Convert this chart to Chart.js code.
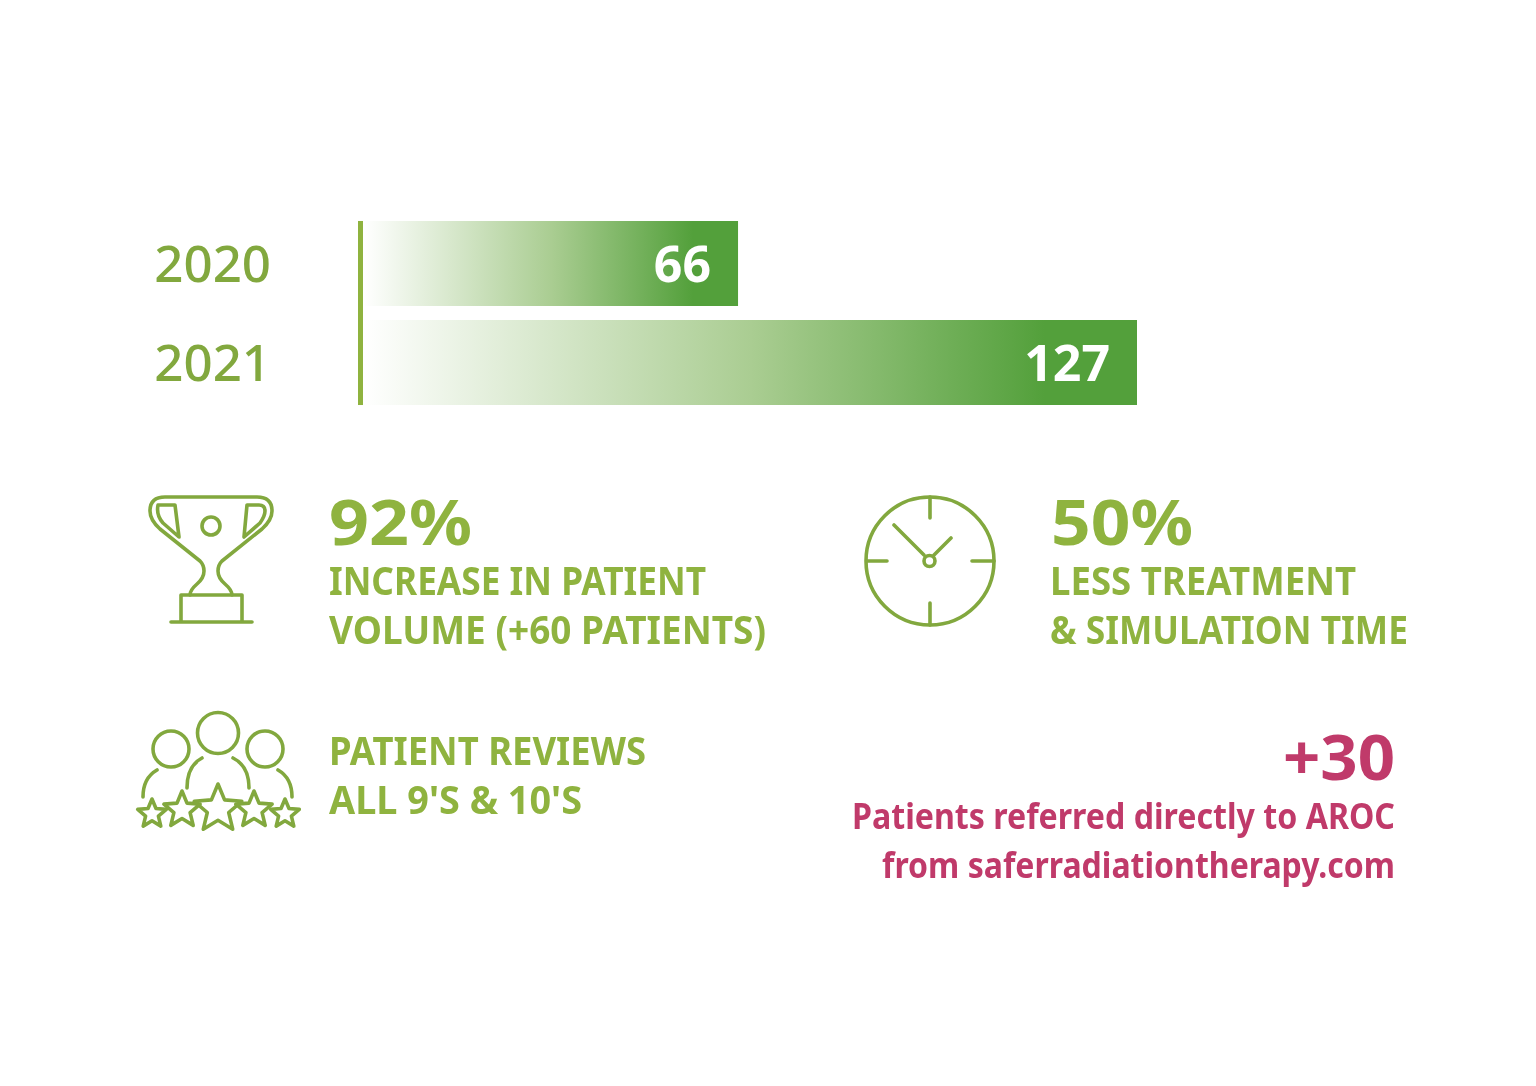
<!DOCTYPE html>
<html>
<head>
<meta charset="utf-8">
<title>Patient volume</title>
<script src="https://cdn.jsdelivr.net/npm/chart.js@4"></script>
<style>
  html, body { margin: 0; padding: 0; background: #fff; }
  #wrap { position: relative; width: 1536px; height: 1086px; overflow: hidden; }
  #canvas, #overlay { position: absolute; left: 0; top: 0; }
  #overlay text { font-family: "Noto Sans", sans-serif; font-weight: 700; }
</style>
</head>
<body>
<div id="wrap">
  <canvas id="canvas" width="1536" height="1086"></canvas>
  <svg id="overlay" width="1536" height="1086" xmlns="http://www.w3.org/2000/svg">
    <g id="texts"></g>
    <g id="icons" fill="none" stroke="#82a83e" stroke-width="3.6" stroke-linecap="round" stroke-linejoin="round">
      <!-- trophy -->
      <path d="M165 497H257Q272 497 272 511Q272 520 262 529L222 561Q218 565 218 571Q218 578 225 584Q232 590 232 595M165 497Q150 497 150 511Q150 520 160 529L200 561Q204 565 204 571Q204 578 197 584Q190 590 190 595"/>
      <path d="M158 505H175L179 537L163 523Q156 515 158 505Z"/>
      <path d="M247 505H259Q265 505 265 511Q265 516 260 523L244 537Z"/>
      <circle cx="211" cy="526" r="9"/>
      <path d="M181 595H242V622M181 595V622M171 622H252"/>
      <!-- clock -->
      <circle cx="930" cy="561" r="64"/>
      <path d="M930 497V518M930 603V625M867 561H887M972 561H994M894 525L924 555M951 538L934 555"/>
      <circle cx="929.5" cy="561" r="5.5"/>
      <!-- people -->
      <circle cx="218" cy="733" r="20.5"/>
      <circle cx="171" cy="749" r="18"/>
      <circle cx="265" cy="749" r="18"/>
      <path d="M202 758Q187 766 187 788M233 758Q249 766 249 788M157 770Q143 778 143 797M278 770Q292 778 292 797"/>
      <g id="stars"></g>
    </g>
  </svg>
</div>
<script>
// bar data
var years = ["2020", "2021"];
var patients = [66, 127];
var axisMin = 8.35; // bars in the picture do not start at zero

// text blocks beside the icons: text, left x, baseline, width, size, colour
var green = "#8fb33f";
var pink = "#c03a6a";
var textLines = ["92%", "INCREASE IN PATIENT", "VOLUME (+60 PATIENTS)", "50%", "LESS TREATMENT", "& SIMULATION TIME",
                 "PATIENT REVIEWS", "ALL 9'S & 10'S", "+30", "Patients referred directly to AROC", "from saferradiationtherapy.com"];
var textX =     [329, 329, 329, 1051, 1050, 1050, 329, 329, 1283, 852, 882];
var textY =     [545, 595, 644, 545, 595, 644, 765, 814, 780, 829, 878];
var textW =     [143, 377, 437, 142, 306, 358, 317, 253, 112, 543, 513];
var textSize =  [63, 39, 39, 63, 39, 39, 39, 39, 63, 35, 35];
var textFill =  [green, green, green, green, green, green, green, green, pink, pink, pink];

var SVGNS = "http://www.w3.org/2000/svg";
var texts = document.getElementById("texts");
for (let i = 0; i < textLines.length; i++) {
    let t = document.createElementNS(SVGNS, "text");
    t.textContent = textLines[i];
    t.setAttribute("x", textX[i]);
    t.setAttribute("y", textY[i]);
    t.setAttribute("font-size", textSize[i]);
    t.setAttribute("fill", textFill[i]);
    t.setAttribute("textLength", textW[i]);
    t.setAttribute("lengthAdjust", "spacingAndGlyphs");
    texts.appendChild(t);
}

// five stars under the people icon
var starX = [152, 182, 218, 254, 285];
var starY = [814, 810, 809, 810, 814];
var starR = [15, 19, 25, 19, 15];
var stars = document.getElementById("stars");
for (let s = 0; s < starX.length; s++) {
    let pts = [];
    for (let k = 0; k < 10; k++) {
        let r = k % 2 == 0 ? starR[s] : starR[s] * 0.45;
        let a = -Math.PI / 2 + k * Math.PI / 5;
        pts.push((starX[s] + r * Math.cos(a)).toFixed(1) + "," + (starY[s] + r * Math.sin(a)).toFixed(1));
    }
    let p = document.createElementNS(SVGNS, "polygon");
    p.setAttribute("points", pts.join(" "));
    stars.appendChild(p);
}

// white to green over most of the bar, solid at the end
function barGradient(context) {
    var chart = context.chart;
    if (!chart.chartArea) return "#53a03b";
    var xs = chart.scales.x;
    var left = xs.getPixelForValue(axisMin);
    var right = xs.getPixelForValue(context.parsed ? context.parsed.x : patients[context.dataIndex]);
    var g = chart.ctx.createLinearGradient(left + 3, 0, right, 0);
    g.addColorStop(0, "#ffffff");
    g.addColorStop(0.5, "#aacd92");
    g.addColorStop(0.88, "#53a03b");
    g.addColorStop(1, "#53a03b");
    return g;
}

// value inside the bar end + the vertical axis line
var barExtras = {
    id: "barExtras",
    afterDatasetsDraw: function (chart) {
        var ctx = chart.ctx;
        var bars = chart.getDatasetMeta(0).data;
        ctx.save();
        ctx.fillStyle = "#8fb33f";
        var top = bars[0].y - bars[0].height / 2;
        var bottom = bars[bars.length - 1].y + bars[bars.length - 1].height / 2;
        ctx.fillRect(chart.chartArea.left - 3, top, 5, bottom - top);
        ctx.fillStyle = "#ffffff";
        ctx.font = "bold 50px 'Noto Sans'";
        ctx.textAlign = "right";
        ctx.textBaseline = "middle";
        bars.forEach(function (bar, i) {
            ctx.fillText(patients[i], bar.x - 27, bar.y + 4);
        });
        ctx.restore();
    }
};

const ctx = document.getElementById("canvas").getContext("2d");
const myChart = new Chart(ctx, {
    type: "bar",
    data: {
        labels: years,
        datasets: [{
            label: "Patients",
            data: patients,
            backgroundColor: barGradient,
            borderWidth: 0,
            categoryPercentage: 1,
            barPercentage: 0.859
        }]
    },
    plugins: [barExtras],
    options: {
        indexAxis: "y",
        responsive: false,
        animation: false,
        layout: { padding: { top: 214, bottom: 674, left: 0, right: 399 } },
        plugins: { legend: { display: false }, tooltip: { enabled: false } },
        scales: {
            x: { display: false, type: "linear", min: axisMin, max: 127 },
            y: {
                afterFit: function (scale) { scale.width = 361; },
                grid: { display: false, drawTicks: false },
                border: { display: false },
                ticks: {
                    color: "#82a83e",
                    padding: 90,
                    labelOffset: 4,
                    font: { family: "Noto Sans", size: 51, weight: "500" }
                }
            }
        }
    }
});
</script>
</body>
</html>
